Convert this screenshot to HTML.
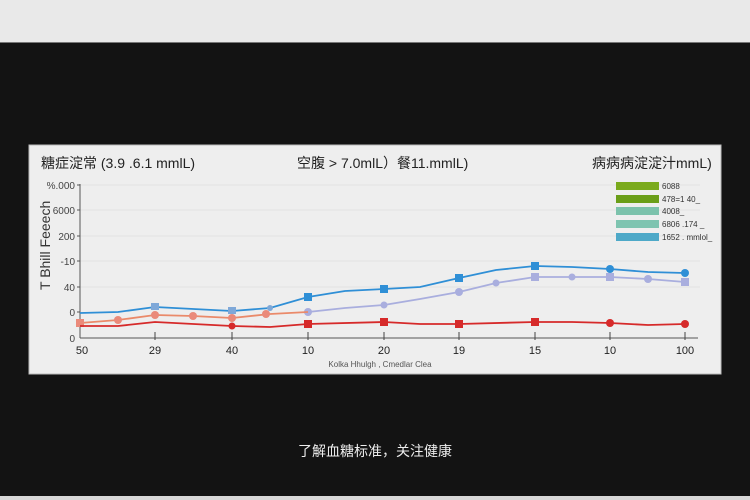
<!DOCTYPE html>
<html><head><meta charset="utf-8"><style>
body{margin:0;width:750px;height:500px;background:#131313;overflow:hidden;position:relative;font-family:"Liberation Sans","Noto Sans CJK SC",sans-serif}
</style></head><body>
<div style="position:absolute;left:0;top:0;width:750px;height:42px;background:#e9e9e9;border-bottom:1px solid #777"></div>
<div style="position:absolute;left:0;top:496px;width:750px;height:4px;background:#d8d8d8"></div>
<svg width="750" height="500" style="position:absolute;left:0;top:0" font-family="Liberation Sans, Noto Sans CJK SC, sans-serif">
<rect x="29" y="145" width="692" height="229" fill="#eeeeee" stroke="#bbb"/>
<text x="41" y="168" font-size="14" fill="#222">糖症淀常 (3.9 .6.1 mmlL)</text>
<text x="297" y="168" font-size="14" fill="#222">空腹 &gt; 7.0mlL）餐11.mmlL)</text>
<text x="592" y="168" font-size="14" fill="#222">病病病淀淀汁mmL)</text>
<g stroke="#e2e2e2"><line x1="80" y1="185" x2="700" y2="185"/><line x1="80" y1="210" x2="700" y2="210"/><line x1="80" y1="236" x2="700" y2="236"/><line x1="80" y1="261" x2="700" y2="261"/><line x1="80" y1="287" x2="700" y2="287"/></g>
<line x1="80" y1="184" x2="80" y2="338" stroke="#555"/>
<line x1="80" y1="338" x2="698" y2="338" stroke="#555"/>
<g font-size="10" fill="#444" text-anchor="end">
<text x="75" y="189">%.000</text><text x="75" y="214">6000</text><text x="75" y="240">200</text><text x="75" y="265">-10</text><text x="75" y="291">40</text><text x="75" y="316">0</text><text x="75" y="342">0</text></g>
<g stroke="#555"><line x1="77" y1="185" x2="80" y2="185"/><line x1="77" y1="210" x2="80" y2="210"/><line x1="77" y1="236" x2="80" y2="236"/><line x1="77" y1="261" x2="80" y2="261"/><line x1="77" y1="287" x2="80" y2="287"/><line x1="77" y1="312" x2="80" y2="312"/></g>
<text transform="translate(50,290) rotate(-90)" font-size="14" fill="#333">T Bhill Feeech</text>
<g font-size="11" fill="#222" text-anchor="middle">
<text x="82" y="354">50</text><text x="155" y="354">29</text><text x="232" y="354">40</text><text x="308" y="354">10</text><text x="384" y="354">20</text><text x="459" y="354">19</text><text x="535" y="354">15</text><text x="610" y="354">10</text><text x="685" y="354">100</text></g>
<g stroke="#444"><line x1="155" y1="332" x2="155" y2="340"/><line x1="232" y1="332" x2="232" y2="340"/><line x1="308" y1="332" x2="308" y2="340"/><line x1="384" y1="332" x2="384" y2="340"/><line x1="459" y1="332" x2="459" y2="340"/><line x1="535" y1="332" x2="535" y2="340"/><line x1="610" y1="332" x2="610" y2="340"/><line x1="685" y1="332" x2="685" y2="340"/></g>
<text x="380" y="367" font-size="8" fill="#555" text-anchor="middle">Kolka Hhulgh , Cmedlar Clea</text>
<polyline fill="none" stroke="#2f8fd6" stroke-width="1.8" points="80,313 118,312 155,307 232,311 270,308 308,297 345,291 384,289 420,287 459,278 496,270 535,266 572,267 610,269 648,272 685,273"/>
<g fill="#2f8fd6"><rect x="304" y="293" width="8" height="8"/><rect x="380" y="285" width="8" height="8"/><rect x="455" y="274" width="8" height="8"/><rect x="531" y="262" width="8" height="8"/><circle cx="610" cy="269" r="4"/><circle cx="685" cy="273" r="4"/></g>
<g fill="#7fa8d8"><rect x="151" y="303" width="8" height="7"/><rect x="228" y="307" width="8" height="7"/><circle cx="270" cy="308" r="3"/></g>
<polyline fill="none" stroke="#a9aede" stroke-width="1.8" points="308,312 345,308 384,305 420,299 459,292 496,283 535,277 572,277 610,277 648,279 685,282"/>
<g fill="#a9aede"><circle cx="308" cy="312" r="4"/><circle cx="384" cy="305" r="3.5"/><circle cx="459" cy="292" r="4"/><circle cx="496" cy="283" r="3.5"/><rect x="531" y="273" width="8" height="8"/><circle cx="572" cy="277" r="3.5"/><rect x="606" y="273" width="8" height="8"/><circle cx="648" cy="279" r="4"/><rect x="681" y="278" width="8" height="8"/></g>
<polyline fill="none" stroke="#ea8a6a" stroke-width="1.8" points="80,323 118,320 155,315 193,316 232,318 270,314 308,312"/>
<g fill="#ea8a7a"><rect x="76" y="319" width="8" height="8"/><circle cx="118" cy="320" r="4"/><circle cx="155" cy="315" r="4"/><circle cx="193" cy="316" r="4"/><circle cx="232" cy="318" r="4"/><circle cx="266" cy="314" r="4"/></g>
<polyline fill="none" stroke="#d62a2a" stroke-width="1.8" points="80,326 118,326 155,322 232,326 270,327 308,324 384,322 420,324 459,324 535,322 572,322 610,323 648,325 685,324"/>
<g fill="#d62a2a"><circle cx="232" cy="326" r="3.5"/><rect x="304" y="320" width="8" height="8"/><rect x="380" y="318" width="8" height="8"/><rect x="455" y="320" width="8" height="8"/><rect x="531" y="318" width="8" height="8"/><circle cx="610" cy="323" r="4"/><circle cx="685" cy="324" r="4"/></g>
<rect x="616" y="182" width="43" height="8" fill="#7aaa1c"/>
<rect x="616" y="195" width="43" height="8" fill="#6a9e18"/>
<rect x="616" y="207" width="43" height="8" fill="#7cc2ac"/>
<rect x="616" y="220" width="43" height="8" fill="#7ec4b0"/>
<rect x="616" y="233" width="43" height="8" fill="#4ea9c8"/>
<g font-size="8" fill="#333"><text x="662" y="189">6088</text><text x="662" y="202">478=1 40_</text><text x="662" y="214">4008_</text><text x="662" y="227">6806 .174 _</text><text x="662" y="240">1652 . mmlol_</text></g>
<text x="375" y="456" font-size="14" fill="#eee" text-anchor="middle">了解血糖标准，关注健康</text>
</svg>
</body></html>
